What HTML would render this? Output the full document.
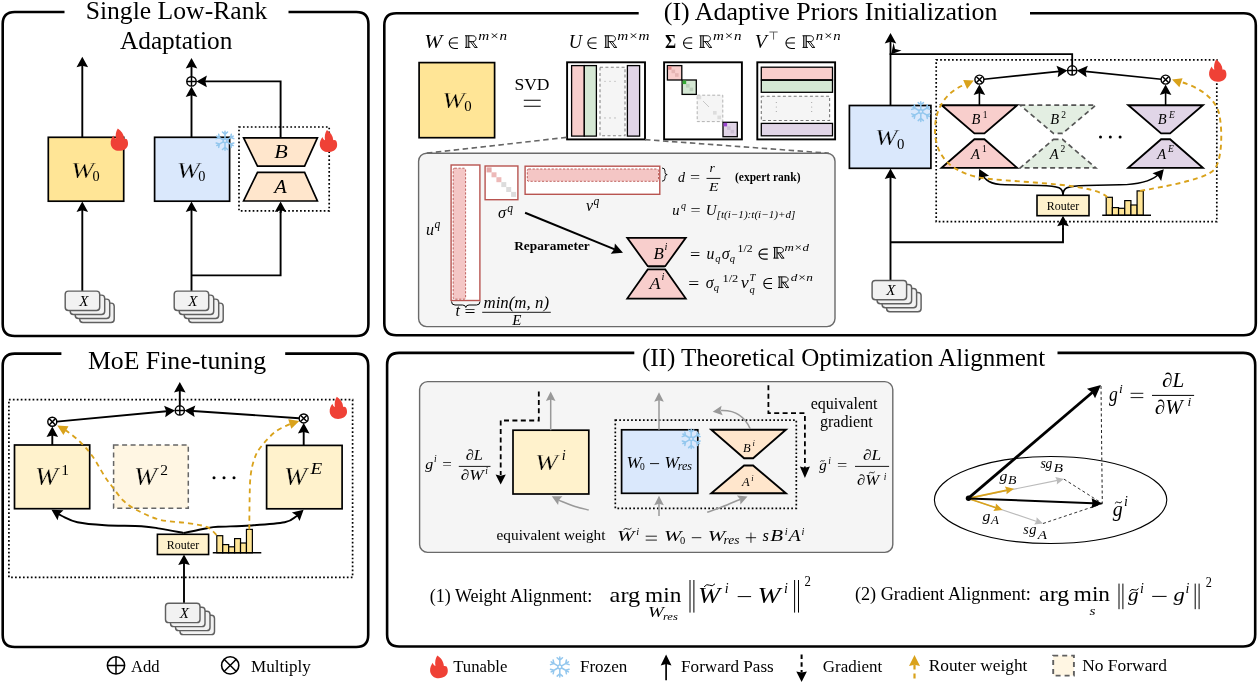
<!DOCTYPE html><html><head><meta charset="utf-8"><style>html,body{margin:0;padding:0;background:#fff;}svg{display:block;will-change:transform;}text{font-family:"Liberation Serif",serif;}</style></head><body>
<svg width="1259" height="683" viewBox="0 0 1259 683">
<rect width="1259" height="683" fill="#fff"/>
<path d="M64.5,12 L14.7,12 Q2.7,12 2.7,24 L2.7,324 Q2.7,336 14.7,336 L356.4,336 Q368.4,336 368.4,324 L368.4,24 Q368.4,12 356.4,12 L288.5,12" fill="none" stroke="#000" stroke-width="2.6"/>
<text x="176.5" y="18.7" font-size="25.6" text-anchor="middle" fill="#000" textLength="181.7" lengthAdjust="spacingAndGlyphs">Single Low-Rank</text>
<text x="176.2" y="48.6" font-size="25.4" text-anchor="middle" fill="#000" textLength="112.5" lengthAdjust="spacingAndGlyphs">Adaptation</text>
<rect x="48.3" y="137.3" width="75.4" height="63.9" fill="#FFE596" stroke="#000" stroke-width="1.7"/>
<text x="71" y="177.7" font-size="24" font-style="italic" text-anchor="start" fill="#000" textLength="22.9" lengthAdjust="spacingAndGlyphs" stroke="#FFE596" stroke-width="0.25">W</text>
<text x="92.6" y="181.4" font-size="14.3" text-anchor="start" fill="#000">0</text>
<path transform="translate(110.3,128.3) scale(1.0)" d="M7.5,0.3 C11,2.5 13.6,6 13.9,10.6 C14.8,10.2 15.8,10.4 16.6,11 C17.8,12.8 18,15.5 17.5,17.2 C16.5,20.6 13,22.5 8.8,22.5 C4.2,22.5 1,19.6 0.4,15.6 C0.1,12.2 1.4,9.4 3.1,7.3 C3.4,8.9 4.3,10 5.6,10.6 C5,6.6 5.6,3 7.5,0.3 Z" fill="#EF4136"/>
<path d="M82.3,137.3 L82.3,65.2" fill="none" stroke="#000" stroke-width="1.9" stroke-linecap="butt" stroke-linejoin="miter"/>
<path d="M82.30,56.80 L88.10,67.30 L82.30,65.70 L76.50,67.30 Z" fill="#000"/>
<path d="M82.3,291 L82.3,209.8" fill="none" stroke="#000" stroke-width="1.9" stroke-linecap="butt" stroke-linejoin="miter"/>
<path d="M82.30,201.40 L88.10,211.90 L82.30,210.30 L76.50,211.90 Z" fill="#000"/>
<rect x="79.7" y="303.1" width="34.5" height="19.3" rx="3.2" fill="#F2F2F2" stroke="#606060" stroke-width="1.45"/>
<rect x="75.2" y="299.1" width="34.5" height="19.3" rx="3.2" fill="#F2F2F2" stroke="#606060" stroke-width="1.45"/>
<rect x="70.2" y="295.1" width="34.5" height="19.3" rx="3.2" fill="#F2F2F2" stroke="#606060" stroke-width="1.45"/>
<rect x="65.2" y="291.1" width="34.5" height="19.3" rx="3.2" fill="#F2F2F2" stroke="#606060" stroke-width="1.45"/>
<text x="83.95" y="305.75" font-size="15" font-style="italic" text-anchor="middle" fill="#000">X</text>
<rect x="154.6" y="137.3" width="75.0" height="63.9" fill="#DAE8FC" stroke="#000" stroke-width="1.7"/>
<text x="176.7" y="177.8" font-size="24" font-style="italic" text-anchor="start" fill="#000" textLength="23" lengthAdjust="spacingAndGlyphs" stroke="#DAE8FC" stroke-width="0.25">W</text>
<text x="198.3" y="181.4" font-size="14.3" text-anchor="start" fill="#000">0</text>
<path d="M225.00,138.71 L225.00,131.30 M225.00,134.34 L227.54,132.05 M225.00,134.34 L222.46,132.05 M223.19,139.76 L216.77,136.05 M219.41,137.57 L218.69,134.22 M219.41,137.57 L216.15,138.63 M223.19,141.84 L216.77,145.55 M219.41,144.03 L216.15,142.97 M219.41,144.03 L218.69,147.38 M225.00,142.89 L225.00,150.30 M225.00,147.26 L222.46,149.55 M225.00,147.26 L227.54,149.55 M226.81,141.84 L233.23,145.55 M230.59,144.03 L231.31,147.38 M230.59,144.03 L233.85,142.97 M226.81,139.76 L233.23,136.05 M230.59,137.57 L233.85,138.63 M230.59,137.57 L231.31,134.22 M225.00,138.71 L223.19,139.76 L223.19,141.84 L225.00,142.89 L226.81,141.84 L226.81,139.76 Z" stroke="#93C7EE" stroke-width="1.5" stroke-linecap="round" stroke-linejoin="round" fill="none"/>
<path d="M191.5,137.3 L191.5,94.8" fill="none" stroke="#000" stroke-width="1.9" stroke-linecap="butt" stroke-linejoin="miter"/>
<path d="M191.50,86.40 L197.30,96.90 L191.50,95.30 L185.70,96.90 Z" fill="#000"/>
<circle cx="191.5" cy="81.4" r="4.7" fill="#fff" stroke="#000" stroke-width="1.45"/>
<path d="M186.8,81.4 L196.2,81.4 M191.5,76.7 L191.5,86.10000000000001" stroke="#000" stroke-width="1.45"/>
<path d="M191.5,76.6 L191.5,66.3" fill="none" stroke="#000" stroke-width="1.9" stroke-linecap="butt" stroke-linejoin="miter"/>
<path d="M191.50,57.90 L197.30,68.40 L191.50,66.80 L185.70,68.40 Z" fill="#000"/>
<path d="M280.6,137.9 L280.6,81.4 L204.8,81.4" fill="none" stroke="#000" stroke-width="1.9" stroke-linecap="butt" stroke-linejoin="miter"/>
<path d="M196.40,81.40 L206.90,75.60 L205.30,81.40 L206.90,87.20 Z" fill="#000"/>
<path d="M191.5,291 L191.5,209.8" fill="none" stroke="#000" stroke-width="1.9" stroke-linecap="butt" stroke-linejoin="miter"/>
<path d="M191.50,201.40 L197.30,211.90 L191.50,210.30 L185.70,211.90 Z" fill="#000"/>
<path d="M191.5,275.4 L280.6,275.4 L280.6,212" fill="none" stroke="#000" stroke-width="1.9" stroke-linecap="butt" stroke-linejoin="miter"/>
<path d="M280.6,213 L280.6,209.8" fill="none" stroke="#000" stroke-width="1.9" stroke-linecap="butt" stroke-linejoin="miter"/>
<path d="M280.60,201.40 L286.40,211.90 L280.60,210.30 L274.80,211.90 Z" fill="#000"/>
<rect x="188.7" y="303.1" width="34.5" height="19.3" rx="3.2" fill="#F2F2F2" stroke="#606060" stroke-width="1.45"/>
<rect x="184.2" y="299.1" width="34.5" height="19.3" rx="3.2" fill="#F2F2F2" stroke="#606060" stroke-width="1.45"/>
<rect x="179.2" y="295.1" width="34.5" height="19.3" rx="3.2" fill="#F2F2F2" stroke="#606060" stroke-width="1.45"/>
<rect x="174.2" y="291.1" width="34.5" height="19.3" rx="3.2" fill="#F2F2F2" stroke="#606060" stroke-width="1.45"/>
<text x="192.95" y="305.75" font-size="15" font-style="italic" text-anchor="middle" fill="#000">X</text>
<rect x="239" y="127" width="90.2" height="83.8" fill="none" stroke="#000" stroke-width="1.7" stroke-dasharray="1.7,2.25"/>
<polygon points="243.6,137.9 317.4,137.9 304.6,166.2 257.5,166.2" fill="#FFE6CC" stroke="#000" stroke-width="1.7" stroke-linejoin="miter"/>
<polygon points="257.5,172.3 304.6,172.3 317.4,201 243.6,201" fill="#FFE6CC" stroke="#000" stroke-width="1.7" stroke-linejoin="miter"/>
<text x="281" y="157.8" font-size="19.5" font-style="italic" text-anchor="middle" fill="#000" textLength="13.5" lengthAdjust="spacingAndGlyphs">B</text>
<text x="280.5" y="193.4" font-size="19.5" font-style="italic" text-anchor="middle" fill="#000" textLength="12.5" lengthAdjust="spacingAndGlyphs">A</text>
<path transform="translate(319.4,129.6) scale(1.0)" d="M7.5,0.3 C11,2.5 13.6,6 13.9,10.6 C14.8,10.2 15.8,10.4 16.6,11 C17.8,12.8 18,15.5 17.5,17.2 C16.5,20.6 13,22.5 8.8,22.5 C4.2,22.5 1,19.6 0.4,15.6 C0.1,12.2 1.4,9.4 3.1,7.3 C3.4,8.9 4.3,10 5.6,10.6 C5,6.6 5.6,3 7.5,0.3 Z" fill="#EF4136"/>
<path d="M61.4,353.6 L14.7,353.6 Q2.7,353.6 2.7,365.6 L2.7,635 Q2.7,647 14.7,647 L356.2,647 Q368.2,647 368.2,635 L368.2,365.6 Q368.2,353.6 356.2,353.6 L285.2,353.6" fill="none" stroke="#000" stroke-width="2.6"/>
<text x="177" y="368.6" font-size="25.6" text-anchor="middle" fill="#000" textLength="178.1" lengthAdjust="spacingAndGlyphs">MoE Fine-tuning</text>
<rect x="8.9" y="399.7" width="343.7" height="177.6" fill="none" stroke="#000" stroke-width="1.7" stroke-dasharray="1.7,2.25"/>
<path transform="translate(329.3,396.4) scale(1.0)" d="M7.5,0.3 C11,2.5 13.6,6 13.9,10.6 C14.8,10.2 15.8,10.4 16.6,11 C17.8,12.8 18,15.5 17.5,17.2 C16.5,20.6 13,22.5 8.8,22.5 C4.2,22.5 1,19.6 0.4,15.6 C0.1,12.2 1.4,9.4 3.1,7.3 C3.4,8.9 4.3,10 5.6,10.6 C5,6.6 5.6,3 7.5,0.3 Z" fill="#EF4136"/>
<path d="M179.8,405.6 L179.8,390.4" fill="none" stroke="#000" stroke-width="1.9" stroke-linecap="butt" stroke-linejoin="miter"/>
<path d="M179.80,382.00 L185.60,392.50 L179.80,390.90 L174.00,392.50 Z" fill="#000"/>
<path d="M56.7,421.6 L166.74,411.28" fill="none" stroke="#000" stroke-width="1.9" stroke-linecap="butt" stroke-linejoin="miter"/>
<path d="M175.10,410.50 L165.19,417.25 L166.24,411.33 L164.10,405.71 Z" fill="#000"/>
<path d="M299,418.2 L192.88,411.06" fill="none" stroke="#000" stroke-width="1.9" stroke-linecap="butt" stroke-linejoin="miter"/>
<path d="M184.50,410.50 L195.37,405.42 L193.38,411.10 L194.59,416.99 Z" fill="#000"/>
<circle cx="179.8" cy="410.4" r="4.6" fill="#fff" stroke="#000" stroke-width="1.45"/>
<path d="M175.20000000000002,410.4 L184.4,410.4 M179.8,405.79999999999995 L179.8,415.0" stroke="#000" stroke-width="1.45"/>
<rect x="14.5" y="445" width="75.2" height="63.7" fill="#FFF2CC" stroke="#000" stroke-width="1.7"/>
<rect x="113.6" y="445" width="74.7" height="63.3" fill="#FFF6E3" stroke="#666" stroke-width="1.5" stroke-dasharray="5,3.5"/>
<rect x="266.6" y="445.4" width="75.5" height="63.4" fill="#FFF2CC" stroke="#000" stroke-width="1.7"/>
<text x="35.1" y="485" font-size="25" font-style="italic" text-anchor="start" fill="#000" textLength="23" lengthAdjust="spacingAndGlyphs" stroke="#FFF2CC" stroke-width="0.25">W</text>
<text x="61.3" y="474.9" font-size="15.5" text-anchor="start" fill="#000">1</text>
<text x="134.1" y="485" font-size="25" font-style="italic" text-anchor="start" fill="#000" textLength="23" lengthAdjust="spacingAndGlyphs" stroke="#FFF6E3" stroke-width="0.25">W</text>
<text x="160.3" y="474.9" font-size="15.5" text-anchor="start" fill="#000">2</text>
<text x="284.1" y="484.6" font-size="25" font-style="italic" text-anchor="start" fill="#000" textLength="23" lengthAdjust="spacingAndGlyphs" stroke="#FFF2CC" stroke-width="0.25">W</text>
<text x="310.4" y="474" font-size="15.8" font-style="italic" text-anchor="start" fill="#000" textLength="11.7" lengthAdjust="spacingAndGlyphs">E</text>
<circle cx="214" cy="477.7" r="1.5" fill="#000"/>
<circle cx="224" cy="477.7" r="1.5" fill="#000"/>
<circle cx="234" cy="477.7" r="1.5" fill="#000"/>
<path d="M52.3,445 L52.3,435.0" fill="none" stroke="#000" stroke-width="1.9" stroke-linecap="butt" stroke-linejoin="miter"/>
<path d="M52.30,426.60 L58.10,437.10 L52.30,435.50 L46.50,437.10 Z" fill="#000"/>
<path d="M303.7,445.4 L303.7,431.4" fill="none" stroke="#000" stroke-width="1.9" stroke-linecap="butt" stroke-linejoin="miter"/>
<path d="M303.70,423.00 L309.50,433.50 L303.70,431.90 L297.90,433.50 Z" fill="#000"/>
<circle cx="52.3" cy="421.8" r="4.5" fill="#fff" stroke="#000" stroke-width="1.45"/>
<path d="M49.12,418.62 L55.48,424.98 M49.12,424.98 L55.48,418.62" stroke="#000" stroke-width="1.45"/>
<circle cx="303.7" cy="418.4" r="4.5" fill="#fff" stroke="#000" stroke-width="1.45"/>
<path d="M300.52,415.22 L306.88,421.58 M300.52,421.58 L306.88,415.22" stroke="#000" stroke-width="1.45"/>
<rect x="157.4" y="534.3" width="51.2" height="20.2" fill="#FFF2CC" stroke="#000" stroke-width="1.6"/>
<text x="183" y="548.6" font-size="12.5" text-anchor="middle" fill="#000" textLength="32.5" lengthAdjust="spacingAndGlyphs">Router</text>
<path d="M184,603.3 L184.0,563.0" fill="none" stroke="#000" stroke-width="1.9" stroke-linecap="butt" stroke-linejoin="miter"/>
<path d="M184.00,554.60 L189.80,565.10 L184.00,563.50 L178.20,565.10 Z" fill="#000"/>
<rect x="180.0" y="615.3" width="34.5" height="19.3" rx="3.2" fill="#F2F2F2" stroke="#606060" stroke-width="1.45"/>
<rect x="175.5" y="611.3" width="34.5" height="19.3" rx="3.2" fill="#F2F2F2" stroke="#606060" stroke-width="1.45"/>
<rect x="170.5" y="607.3" width="34.5" height="19.3" rx="3.2" fill="#F2F2F2" stroke="#606060" stroke-width="1.45"/>
<rect x="165.5" y="603.3" width="34.5" height="19.3" rx="3.2" fill="#F2F2F2" stroke="#606060" stroke-width="1.45"/>
<text x="184.25" y="617.9499999999999" font-size="15" font-style="italic" text-anchor="middle" fill="#000">X</text>
<rect x="216.80" y="535.7" width="5.93" height="17.10" fill="#FFE596" stroke="#000" stroke-width="1.2"/>
<rect x="222.73" y="544.6" width="5.93" height="8.20" fill="#FFE596" stroke="#000" stroke-width="1.2"/>
<rect x="228.66" y="546.8" width="5.93" height="6.00" fill="#FFE596" stroke="#000" stroke-width="1.2"/>
<rect x="234.59" y="538.6" width="5.93" height="14.20" fill="#FFE596" stroke="#000" stroke-width="1.2"/>
<rect x="240.52" y="543.0" width="5.93" height="9.80" fill="#FFE596" stroke="#000" stroke-width="1.2"/>
<rect x="246.45" y="529.4" width="5.93" height="23.40" fill="#FFE596" stroke="#000" stroke-width="1.2"/>
<path d="M212.8,552.8 L261.3,552.8" fill="none" stroke="#000" stroke-width="1.4" stroke-linecap="butt" stroke-linejoin="miter"/>
<path d="M183.5,533 C179.58,532.27 167.00,529.73 160,528.6 C153.00,527.47 150.67,526.77 141.5,526.2 C132.33,525.63 115.68,525.87 105,525.2 C94.32,524.53 84.57,523.73 77.4,522.2 C70.23,520.67 65.08,517.34 62,516 C58.92,514.66 59.42,514.47 58.91,514.17" fill="none" stroke="#000" stroke-width="1.9"/>
<path d="M51.50,509.80 L63.49,510.14 L59.16,514.33 L57.59,520.13 Z" fill="#000"/>
<path d="M183.5,533 C187.42,532.20 201.25,529.23 207,528.2 C212.75,527.17 210.83,527.25 218,526.8 C225.17,526.35 238.88,526.25 250,525.5 C261.12,524.75 277.03,523.80 284.7,522.3 C292.37,520.80 293.93,517.63 296,516.5 C298.07,515.37 296.96,515.66 297.15,515.49" fill="none" stroke="#000" stroke-width="1.9"/>
<path d="M303.60,509.80 L299.56,521.09 L296.92,515.69 L291.89,512.39 Z" fill="#000"/>
<path d="M216.5,535 C214.97,533.70 211.88,529.15 207.3,527.2 C202.72,525.25 196.93,524.55 189,523.3 C181.07,522.05 168.53,521.98 159.7,519.7 C150.87,517.42 142.08,512.80 136,509.6 C129.92,506.40 127.02,504.15 123.2,500.5 C119.38,496.85 116.15,491.67 113.1,487.7 C110.05,483.73 108.40,482.03 104.9,476.7 C101.40,471.37 96.22,461.48 92.1,455.7 C87.98,449.92 84.32,446.03 80.2,442 C76.08,437.97 69.82,433.42 67.4,431.5 C64.98,429.58 65.97,430.66 65.68,430.49" fill="none" stroke="#D9A21B" stroke-width="1.8" stroke-dasharray="5,4"/>
<path d="M57.30,425.60 L68.46,426.33 L65.93,430.64 L63.41,434.96 Z" fill="#D9A21B"/>
<path d="M249.3,529.5 C249.35,524.58 249.40,508.80 249.6,500 C249.80,491.20 249.77,483.37 250.5,476.7 C251.23,470.03 252.38,464.82 254,460 C255.62,455.18 256.70,452.47 260.2,447.8 C263.70,443.13 270.03,435.97 275,432 C279.97,428.03 287.49,425.34 290,424 C292.51,422.66 290.06,423.98 290.07,423.98" fill="none" stroke="#D9A21B" stroke-width="1.8" stroke-dasharray="5,4"/>
<path d="M299.30,421.00 L291.32,428.83 L289.78,424.07 L288.25,419.31 Z" fill="#D9A21B"/>
<path d="M638.7,13.3 L396.3,13.3 Q384.3,13.3 384.3,25.3 L384.3,323.2 Q384.3,335.2 396.3,335.2 L1243.8,335.2 Q1255.8,335.2 1255.8,323.2 L1255.8,25.3 Q1255.8,13.3 1243.8,13.3 L1030,13.3" fill="none" stroke="#000" stroke-width="2.6"/>
<text x="830.6" y="19.7" font-size="25.8" text-anchor="middle" fill="#000" textLength="333.6" lengthAdjust="spacingAndGlyphs">(I) Adaptive Priors Initialization</text>
<text x="424.2" y="47.9" font-size="19.5" font-style="italic" text-anchor="start" fill="#000" textLength="18" lengthAdjust="spacingAndGlyphs">W</text>
<path d="M457.90,37.70 L454.55,37.70 A5.35,5.35 0 0 0 454.55,48.40 L457.90,48.40 M449.50,43.05 L457.90,43.05" fill="none" stroke="#000" stroke-width="1.05"/>
<path d="M465.00,35.75 L472.80,35.75 C477.00,35.75 477.00,41.60 472.80,41.60 L468.80,41.60 M466.20,35.75 L466.20,47.45 M468.80,35.75 L468.80,47.45 M465.00,47.45 L470.40,47.45 M470.40,41.60 L474.80,47.45 M472.60,41.60 L477.00,47.45 M474.40,47.45 L477.40,47.45" fill="none" stroke="#000" stroke-width="0.95"/>
<rect x="466.20" y="35.75" width="2.6" height="11.70" fill="#000" opacity="0.25"/>
<text x="478.3" y="39.9" font-size="13.3" font-style="italic" text-anchor="start" fill="#000" textLength="28.8" lengthAdjust="spacingAndGlyphs">m×n</text>
<text x="568.7" y="47.9" font-size="19.5" font-style="italic" text-anchor="start" fill="#000" textLength="13.2" lengthAdjust="spacingAndGlyphs">U</text>
<path d="M596.50,37.70 L593.15,37.70 A5.35,5.35 0 0 0 593.15,48.40 L596.50,48.40 M588.10,43.05 L596.50,43.05" fill="none" stroke="#000" stroke-width="1.05"/>
<path d="M604.50,35.75 L612.30,35.75 C616.50,35.75 616.50,41.60 612.30,41.60 L608.30,41.60 M605.70,35.75 L605.70,47.45 M608.30,35.75 L608.30,47.45 M604.50,47.45 L609.90,47.45 M609.90,41.60 L614.30,47.45 M612.10,41.60 L616.50,47.45 M613.90,47.45 L616.90,47.45" fill="none" stroke="#000" stroke-width="0.95"/>
<rect x="605.70" y="35.75" width="2.6" height="11.70" fill="#000" opacity="0.25"/>
<text x="617.3" y="39.9" font-size="13.3" font-style="italic" text-anchor="start" fill="#000" textLength="32.2" lengthAdjust="spacingAndGlyphs">m×m</text>
<text x="665.1" y="47.9" font-size="19" font-weight="bold" text-anchor="start" fill="#000" textLength="11.1" lengthAdjust="spacingAndGlyphs">Σ</text>
<path d="M692.20,37.70 L688.85,37.70 A5.35,5.35 0 0 0 688.85,48.40 L692.20,48.40 M683.80,43.05 L692.20,43.05" fill="none" stroke="#000" stroke-width="1.05"/>
<path d="M699.50,35.75 L707.30,35.75 C711.50,35.75 711.50,41.60 707.30,41.60 L703.30,41.60 M700.70,35.75 L700.70,47.45 M703.30,35.75 L703.30,47.45 M699.50,47.45 L704.90,47.45 M704.90,41.60 L709.30,47.45 M707.10,41.60 L711.50,47.45 M708.90,47.45 L711.90,47.45" fill="none" stroke="#000" stroke-width="0.95"/>
<rect x="700.70" y="35.75" width="2.6" height="11.70" fill="#000" opacity="0.25"/>
<text x="712.9" y="39.9" font-size="13.3" font-style="italic" text-anchor="start" fill="#000" textLength="28.6" lengthAdjust="spacingAndGlyphs">m×n</text>
<text x="754.8" y="47.9" font-size="19.5" font-style="italic" text-anchor="start" fill="#000" textLength="12.1" lengthAdjust="spacingAndGlyphs">V</text>
<path d="M769.4,32 L777.6999999999999,32 M773.55,32 L773.55,39.6" stroke="#555" stroke-width="0.9" fill="none"/>
<path d="M794.90,37.70 L791.25,37.70 A5.35,5.35 0 0 0 791.25,48.40 L794.90,48.40 M786.20,43.05 L794.90,43.05" fill="none" stroke="#000" stroke-width="1.05"/>
<path d="M802.50,35.75 L810.30,35.75 C814.50,35.75 814.50,41.60 810.30,41.60 L806.30,41.60 M803.70,35.75 L803.70,47.45 M806.30,35.75 L806.30,47.45 M802.50,47.45 L807.90,47.45 M807.90,41.60 L812.30,47.45 M810.10,41.60 L814.50,47.45 M811.90,47.45 L814.90,47.45" fill="none" stroke="#000" stroke-width="0.95"/>
<rect x="803.70" y="35.75" width="2.6" height="11.70" fill="#000" opacity="0.25"/>
<text x="815.8" y="39.9" font-size="13.3" font-style="italic" text-anchor="start" fill="#000" textLength="24.8" lengthAdjust="spacingAndGlyphs">n×n</text>
<rect x="419.1" y="62.6" width="75.5" height="75.1" fill="#FFE596" stroke="#000" stroke-width="1.7"/>
<text x="442.3" y="107.8" font-size="24" font-style="italic" text-anchor="start" fill="#000" textLength="22.4" lengthAdjust="spacingAndGlyphs" stroke="#FFE596" stroke-width="0.25">W</text>
<text x="464.3" y="111.2" font-size="14.8" text-anchor="start" fill="#000">0</text>
<text x="532" y="89.6" font-size="17.5" text-anchor="middle" fill="#000" textLength="35.1" lengthAdjust="spacingAndGlyphs">SVD</text>
<path d="M523.8,100.3 L540.7,100.3 M523.8,106.3 L540.7,106.3" stroke="#000" stroke-width="1.1"/>
<rect x="567.1" y="62.3" width="77.9" height="77.1" fill="#fff" stroke="#000" stroke-width="1.9"/>
<rect x="571.6" y="65.6" width="12.7" height="70.5" fill="#F8CECC" stroke="#000" stroke-width="1.3"/>
<rect x="584.3" y="65.6" width="12.1" height="70.5" fill="#D5E8D4" stroke="#000" stroke-width="1.3"/>
<rect x="600" y="67.2" width="25" height="68.5" fill="#F5F5F5" stroke="#888" stroke-width="1.1" stroke-dasharray="3,2.4"/>
<circle cx="605" cy="81.2" r="0.55" fill="#999"/>
<circle cx="610" cy="81.2" r="0.55" fill="#999"/>
<circle cx="615" cy="81.2" r="0.55" fill="#999"/>
<circle cx="605" cy="117.9" r="0.55" fill="#999"/>
<circle cx="610" cy="117.9" r="0.55" fill="#999"/>
<circle cx="615" cy="117.9" r="0.55" fill="#999"/>
<rect x="627.4" y="65.6" width="12.2" height="70.5" fill="#E1D5E7" stroke="#000" stroke-width="1.3"/>
<rect x="664.1" y="62.3" width="77.8" height="77.1" fill="#fff" stroke="#000" stroke-width="1.9"/>
<rect x="667.4" y="65.6" width="14.4" height="14.4" fill="#F8CECC" stroke="#000" stroke-width="1.3"/>
<rect x="682.1" y="80" width="14.2" height="14.4" fill="#D5E8D4" stroke="#000" stroke-width="1.3"/>
<rect x="697.2" y="95.2" width="25.6" height="26.4" fill="#F5F5F5" stroke="#aaa" stroke-width="0.9" stroke-dasharray="3,2"/>
<rect x="723" y="122.3" width="14.3" height="14.4" fill="#E1D5E7" stroke="#000" stroke-width="1.3"/>
<rect x="667.9" y="66.1" width="3.6" height="3.6" fill="#D88"/>
<rect x="671.5" y="69.6" width="3.6" height="3.6" fill="#E4B4B2"/>
<rect x="675" y="73.2" width="3.6" height="3.6" fill="#E4B4B2"/>
<rect x="682.6" y="80.5" width="3.6" height="3.6" fill="#3A3"/>
<rect x="686" y="84" width="3.6" height="3.6" fill="#BCCFBB"/>
<rect x="689.6" y="87.6" width="3.6" height="3.6" fill="#BCCFBB"/>
<rect x="697.6" y="95.6" width="3.6" height="3.6" fill="#DDD"/>
<rect x="713" y="111" width="3.6" height="3.6" fill="#DDD"/>
<rect x="717.4" y="115.6" width="3.6" height="3.6" fill="#DDD"/>
<rect x="723.5" y="122.8" width="3.6" height="3.6" fill="#94C"/>
<rect x="727" y="126.3" width="3.6" height="3.6" fill="#CCC0D4"/>
<rect x="730.6" y="129.8" width="3.6" height="3.6" fill="#CCC0D4"/>
<path d="M703,101 L709,107" stroke="#bbb" stroke-width="0.8"/>
<rect x="757.3" y="62.3" width="77.8" height="77.1" fill="#fff" stroke="#000" stroke-width="1.9"/>
<rect x="761.3" y="67.2" width="71.2" height="12.6" fill="#F8CECC" stroke="#000" stroke-width="1.3"/>
<rect x="761.3" y="80.3" width="71.2" height="12.0" fill="#D5E8D4" stroke="#000" stroke-width="1.3"/>
<rect x="761.3" y="96.2" width="68.3" height="24.3" fill="#F5F5F5" stroke="#777" stroke-width="1.1" stroke-dasharray="3,2.4"/>
<circle cx="776.3" cy="102.5" r="0.55" fill="#999"/>
<circle cx="776.3" cy="107" r="0.55" fill="#999"/>
<circle cx="776.3" cy="111.5" r="0.55" fill="#999"/>
<circle cx="811.7" cy="102.5" r="0.55" fill="#999"/>
<circle cx="811.7" cy="107" r="0.55" fill="#999"/>
<circle cx="811.7" cy="111.5" r="0.55" fill="#999"/>
<rect x="761.3" y="123.4" width="71.2" height="12.4" fill="#E1D5E7" stroke="#000" stroke-width="1.3"/>
<path d="M566.5,137.4 L426.5,153.2" fill="none" stroke="#666" stroke-width="1.6" stroke-linecap="butt" stroke-linejoin="miter" stroke-dasharray="5.5,3.5"/>
<path d="M645,139.6 L829,153.2" fill="none" stroke="#666" stroke-width="1.6" stroke-linecap="butt" stroke-linejoin="miter" stroke-dasharray="5.5,3.5"/>
<rect x="418.6" y="153.2" width="416.4" height="173.4" fill="#F5F5F5" stroke="#6A6A6A" stroke-width="1.4" rx="8"/>
<rect x="451.1" y="165" width="28.8" height="135.5" fill="#fff" stroke="#B85450" stroke-width="1.4"/>
<rect x="453.2" y="168.2" width="12.4" height="131.0" fill="#F4C6C5" stroke="#B85450" stroke-width="0.9" stroke-dasharray="2.2,1.6" rx="1.5"/>
<path d="M451.5,301.5 Q451.5,305 455,305 L462.5,305 Q465.5,305 465.8,307.5 Q466.1,305 469,305 L476.5,305 Q480,305 480,301.5" fill="none" stroke="#000" stroke-width="1"/>
<rect x="485.1" y="166" width="32.8" height="33.7" fill="#fff" stroke="#B85450" stroke-width="1.4"/>
<rect x="486.60" y="167.40" width="5" height="5" fill="#E4A9A8"/>
<rect x="491.50" y="172.30" width="5" height="5" fill="#EDB9B8"/>
<rect x="496.40" y="177.20" width="5" height="5" fill="#EDB9B8"/>
<rect x="501.30" y="182.10" width="5" height="5" fill="#DCDCDC"/>
<rect x="506.20" y="187.00" width="5" height="5" fill="#DCDCDC"/>
<rect x="511.10" y="191.90" width="5" height="5" fill="#DCDCDC"/>
<rect x="525.1" y="166.2" width="134.7" height="28.1" fill="#fff" stroke="#B85450" stroke-width="1.4"/>
<rect x="527.3" y="169" width="131.2" height="12.3" fill="#F4C6C5" stroke="#B85450" stroke-width="0.9" stroke-dasharray="2.2,1.6" rx="1.5"/>
<path d="M662,168 Q665,168 665,171 L665,172.5 Q665,174.6 667.2,174.6 Q665,174.6 665,176.8 L665,178.2 Q665,181.2 662,181.2" fill="none" stroke="#000" stroke-width="0.9"/>
<text x="498" y="218" font-size="16" font-style="italic" text-anchor="start" fill="#000" textLength="8" lengthAdjust="spacingAndGlyphs">σ</text>
<text x="507.2" y="212" font-size="11.5" font-style="italic" text-anchor="start" fill="#000">q</text>
<text x="586" y="211.4" font-size="16" font-style="italic" text-anchor="start" fill="#000">v</text>
<text x="593.4" y="204.5" font-size="11.5" font-style="italic" text-anchor="start" fill="#000">q</text>
<text x="426" y="235" font-size="16" font-style="italic" text-anchor="start" fill="#000">u</text>
<text x="434.5" y="228" font-size="11.5" font-style="italic" text-anchor="start" fill="#000">q</text>
<text x="455.6" y="315.8" font-size="16" font-style="italic" text-anchor="start" fill="#000">t</text>
<text x="464.5" y="317" font-size="16" text-anchor="start" fill="#000" textLength="11" lengthAdjust="spacingAndGlyphs">=</text>
<text x="483.5" y="307.5" font-size="16" font-style="italic" text-anchor="start" fill="#000" textLength="65.5" lengthAdjust="spacingAndGlyphs">min(m, n)</text>
<path d="M482.2,312.3 L550.8,312.3" stroke="#000" stroke-width="0.9"/>
<text x="512.3" y="325.3" font-size="15" font-style="italic" text-anchor="start" fill="#000">E</text>
<path d="M525.1,212.8 L614.76,249.34" fill="none" stroke="#000" stroke-width="2.0" stroke-linecap="butt" stroke-linejoin="miter"/>
<path d="M623.00,252.70 L610.74,253.64 L614.30,249.15 L614.89,243.46 Z" fill="#000"/>
<text x="514.2" y="249.5" font-size="13.4" font-weight="bold" text-anchor="start" fill="#000" textLength="75.6" lengthAdjust="spacingAndGlyphs">Reparameter</text>
<text x="677.9" y="181.6" font-size="14" font-style="italic" text-anchor="start" fill="#000">d</text>
<text x="690" y="181.6" font-size="14" text-anchor="start" fill="#000" textLength="10.1" lengthAdjust="spacingAndGlyphs">=</text>
<text x="709.6" y="172.1" font-size="13.5" font-style="italic" text-anchor="start" fill="#000">r</text>
<path d="M706.5,178.4 L720.4,178.4" stroke="#000" stroke-width="0.9"/>
<text x="709" y="191.1" font-size="13" font-style="italic" text-anchor="start" fill="#000" textLength="9.5" lengthAdjust="spacingAndGlyphs">E</text>
<text x="735" y="181" font-size="11.6" font-weight="bold" text-anchor="start" fill="#000" textLength="65.5" lengthAdjust="spacingAndGlyphs">(expert rank)</text>
<text x="672.2" y="214.6" font-size="14.5" font-style="italic" text-anchor="start" fill="#000">u</text>
<text x="681" y="209.3" font-size="10" font-style="italic" text-anchor="start" fill="#000">q</text>
<text x="690.6" y="214.6" font-size="14.5" text-anchor="start" fill="#000" textLength="10.1" lengthAdjust="spacingAndGlyphs">=</text>
<text x="705.8" y="214.6" font-size="14.5" font-style="italic" text-anchor="start" fill="#000" textLength="10.8" lengthAdjust="spacingAndGlyphs">U</text>
<text x="716.6" y="218.4" font-size="10.5" font-style="italic" text-anchor="start" fill="#000" textLength="78.8" lengthAdjust="spacingAndGlyphs">[t(i−1):t(i−1)+d]</text>
<polygon points="627.25,237.9 685.75,237.9 665.25,266.2 647.75,266.2" fill="#F8CECC" stroke="#000" stroke-width="1.8" stroke-linejoin="miter"/>
<polygon points="647.75,269.4 665.25,269.4 685.75,298.6 627.25,298.6" fill="#F8CECC" stroke="#000" stroke-width="1.8" stroke-linejoin="miter"/>
<rect x="648.2" y="267.1" width="16.6" height="1.4" fill="#8A8A8A"/>
<text x="653.4" y="258.6" font-size="16" font-style="italic" text-anchor="start" fill="#000" textLength="10.3" lengthAdjust="spacingAndGlyphs">B</text>
<text x="664.6" y="250" font-size="10.5" font-style="italic" text-anchor="start" fill="#000">i</text>
<text x="649.4" y="288.8" font-size="16" font-style="italic" text-anchor="start" fill="#000" textLength="11" lengthAdjust="spacingAndGlyphs">A</text>
<text x="661.5" y="280" font-size="10.5" font-style="italic" text-anchor="start" fill="#000">i</text>
<text x="689.9" y="259.8" font-size="16" text-anchor="start" fill="#000" textLength="10.3" lengthAdjust="spacingAndGlyphs">=</text>
<text x="706.6" y="258.6" font-size="16" font-style="italic" text-anchor="start" fill="#000" textLength="7.9" lengthAdjust="spacingAndGlyphs">u</text>
<text x="715.2" y="262" font-size="10.5" font-style="italic" text-anchor="start" fill="#000">q</text>
<text x="721.7" y="258.6" font-size="16" font-style="italic" text-anchor="start" fill="#000" textLength="7.9" lengthAdjust="spacingAndGlyphs">σ</text>
<text x="729.8" y="262" font-size="10.5" font-style="italic" text-anchor="start" fill="#000">q</text>
<text x="737.6" y="252.2" font-size="11" text-anchor="start" fill="#000" textLength="15" lengthAdjust="spacingAndGlyphs">1/2</text>
<path d="M767.70,249.10 L764.00,249.10 A5.00,5.00 0 0 0 764.00,259.10 L767.70,259.10 M759.30,254.10 L767.70,254.10" fill="none" stroke="#000" stroke-width="1.05"/>
<path d="M773.30,247.45 L780.27,247.45 C784.48,247.45 784.48,252.80 780.27,252.80 L777.10,252.80 M774.50,247.45 L774.50,258.15 M777.10,247.45 L777.10,258.15 M773.30,258.15 L778.70,258.15 M777.88,252.80 L781.60,258.15 M780.07,252.80 L783.80,258.15 M781.20,258.15 L784.20,258.15" fill="none" stroke="#000" stroke-width="0.95"/>
<rect x="774.50" y="247.45" width="2.6" height="10.70" fill="#000" opacity="0.25"/>
<text x="784.4" y="251.4" font-size="11" font-style="italic" text-anchor="start" fill="#000" textLength="24.6" lengthAdjust="spacingAndGlyphs">m×d</text>
<text x="688.3" y="289.2" font-size="16" text-anchor="start" fill="#000" textLength="11" lengthAdjust="spacingAndGlyphs">=</text>
<text x="705.8" y="288" font-size="16" font-style="italic" text-anchor="start" fill="#000" textLength="7.9" lengthAdjust="spacingAndGlyphs">σ</text>
<text x="713.8" y="291.4" font-size="10.5" font-style="italic" text-anchor="start" fill="#000">q</text>
<text x="722.5" y="281.6" font-size="11" text-anchor="start" fill="#000" textLength="15.8" lengthAdjust="spacingAndGlyphs">1/2</text>
<text x="740.7" y="288" font-size="16" font-style="italic" text-anchor="start" fill="#000" textLength="8" lengthAdjust="spacingAndGlyphs">v</text>
<text x="749.5" y="281" font-size="10.5" font-style="italic" text-anchor="start" fill="#000">T</text>
<text x="749.5" y="292.5" font-size="10.5" font-style="italic" text-anchor="start" fill="#000">q</text>
<path d="M772.00,278.50 L768.80,278.50 A5.00,5.00 0 0 0 768.80,288.50 L772.00,288.50 M764.10,283.50 L772.00,283.50" fill="none" stroke="#000" stroke-width="1.05"/>
<path d="M778.00,276.85 L784.98,276.85 C789.18,276.85 789.18,282.20 784.98,282.20 L781.80,282.20 M779.20,276.85 L779.20,287.55 M781.80,276.85 L781.80,287.55 M778.00,287.55 L783.40,287.55 M782.58,282.20 L786.30,287.55 M784.77,282.20 L788.50,287.55 M785.90,287.55 L788.90,287.55" fill="none" stroke="#000" stroke-width="0.95"/>
<rect x="779.20" y="276.85" width="2.6" height="10.70" fill="#000" opacity="0.25"/>
<text x="790.8" y="280.8" font-size="11" font-style="italic" text-anchor="start" fill="#000" textLength="22.2" lengthAdjust="spacingAndGlyphs">d×n</text>
<rect x="849.4" y="105.5" width="81.5" height="62.8" fill="#DAE8FC" stroke="#000" stroke-width="1.7"/>
<text x="875" y="145.3" font-size="24" font-style="italic" text-anchor="start" fill="#000" textLength="22.4" lengthAdjust="spacingAndGlyphs" stroke="#DAE8FC" stroke-width="0.25">W</text>
<text x="897" y="148.8" font-size="14.8" text-anchor="start" fill="#000">0</text>
<path d="M920.80,109.44 L920.80,101.80 M920.80,104.94 L923.42,102.58 M920.80,104.94 L918.18,102.58 M918.93,110.52 L912.31,106.70 M915.03,108.27 L914.30,104.82 M915.03,108.27 L911.67,109.36 M918.93,112.68 L912.31,116.50 M915.03,114.93 L911.67,113.84 M915.03,114.93 L914.30,118.38 M920.80,113.76 L920.80,121.40 M920.80,118.26 L918.18,120.62 M920.80,118.26 L923.42,120.62 M922.67,112.68 L929.29,116.50 M926.57,114.93 L927.30,118.38 M926.57,114.93 L929.93,113.84 M922.67,110.52 L929.29,106.70 M926.57,108.27 L929.93,109.36 M926.57,108.27 L927.30,104.82 M920.80,109.44 L918.93,110.52 L918.93,112.68 L920.80,113.76 L922.67,112.68 L922.67,110.52 Z" stroke="#93C7EE" stroke-width="1.5" stroke-linecap="round" stroke-linejoin="round" fill="none"/>
<path d="M890.5,105.5 L890.5,41.3" fill="none" stroke="#000" stroke-width="1.8" stroke-linecap="butt" stroke-linejoin="miter"/>
<path d="M890.50,32.90 L896.30,43.40 L890.50,41.80 L884.70,43.40 Z" fill="#000"/>
<path d="M889.6,54.2 L1072.2,54.2 L1072.2,66" fill="none" stroke="#000" stroke-width="1.8" stroke-linecap="butt" stroke-linejoin="miter"/>
<path d="M891.2,54.2 L893.6,42.8 L895,49 L901.5,50.6 Z" fill="#000"/>
<rect x="936.2" y="59.8" width="280.6" height="161.9" fill="none" stroke="#000" stroke-width="1.7" stroke-dasharray="1.7,2.25"/>
<path transform="translate(1208.7,59.2) scale(1.0)" d="M7.5,0.3 C11,2.5 13.6,6 13.9,10.6 C14.8,10.2 15.8,10.4 16.6,11 C17.8,12.8 18,15.5 17.5,17.2 C16.5,20.6 13,22.5 8.8,22.5 C4.2,22.5 1,19.6 0.4,15.6 C0.1,12.2 1.4,9.4 3.1,7.3 C3.4,8.9 4.3,10 5.6,10.6 C5,6.6 5.6,3 7.5,0.3 Z" fill="#EF4136"/>
<path d="M983.9,79.2 L1059.15,71.37" fill="none" stroke="#000" stroke-width="1.6" stroke-linecap="butt" stroke-linejoin="miter"/>
<path d="M1067.50,70.50 L1057.66,77.36 L1058.65,71.42 L1056.46,65.82 Z" fill="#000"/>
<path d="M1161.2,79.2 L1085.16,71.36" fill="none" stroke="#000" stroke-width="1.6" stroke-linecap="butt" stroke-linejoin="miter"/>
<path d="M1076.80,70.50 L1087.84,65.81 L1085.65,71.41 L1086.65,77.35 Z" fill="#000"/>
<circle cx="1072.2" cy="70.4" r="4.6" fill="#fff" stroke="#000" stroke-width="1.45"/>
<path d="M1067.6000000000001,70.4 L1076.8,70.4 M1072.2,65.80000000000001 L1072.2,75.0" stroke="#000" stroke-width="1.45"/>
<circle cx="979.4" cy="79.6" r="4.5" fill="#fff" stroke="#000" stroke-width="1.45"/>
<path d="M976.22,76.42 L982.58,82.78 M976.22,82.78 L982.58,76.42" stroke="#000" stroke-width="1.45"/>
<circle cx="1165.6" cy="79.6" r="4.5" fill="#fff" stroke="#000" stroke-width="1.45"/>
<path d="M1162.42,76.42 L1168.78,82.78 M1162.42,82.78 L1168.78,76.42" stroke="#000" stroke-width="1.45"/>
<path d="M979.4,105 L979.4,92.8" fill="none" stroke="#000" stroke-width="1.6" stroke-linecap="butt" stroke-linejoin="miter"/>
<path d="M979.40,84.40 L985.20,94.90 L979.40,93.30 L973.60,94.90 Z" fill="#000"/>
<path d="M1165.6,105 L1165.6,92.8" fill="none" stroke="#000" stroke-width="1.6" stroke-linecap="butt" stroke-linejoin="miter"/>
<path d="M1165.60,84.40 L1171.40,94.90 L1165.60,93.30 L1159.80,94.90 Z" fill="#000"/>
<polygon points="941.65,105.2 1017.15,105.2 984.4,133.4 974.4,133.4" fill="#F8CECC" stroke="#000" stroke-width="1.9" stroke-linejoin="miter"/>
<polygon points="974.4,139.3 984.4,139.3 1017.15,167.9 941.65,167.9" fill="#F8CECC" stroke="#000" stroke-width="1.9" stroke-linejoin="miter"/>
<polygon points="1020.25,105.2 1095.75,105.2 1062.5,133.4 1053.5,133.4" fill="#E3EEE2" stroke="#555" stroke-width="1.7" stroke-linejoin="miter" stroke-dasharray="5,3.5"/>
<polygon points="1053.5,139.3 1062.5,139.3 1095.75,167.9 1020.25,167.9" fill="#E3EEE2" stroke="#555" stroke-width="1.7" stroke-linejoin="miter" stroke-dasharray="5,3.5"/>
<polygon points="1128.35,105.2 1202.85,105.2 1170.1,133.4 1161.1,133.4" fill="#E1D5E7" stroke="#000" stroke-width="1.9" stroke-linejoin="miter"/>
<polygon points="1161.1,139.3 1170.1,139.3 1202.85,167.9 1128.35,167.9" fill="#E1D5E7" stroke="#000" stroke-width="1.9" stroke-linejoin="miter"/>
<text x="971.6" y="123.8" font-size="14.5" font-style="italic" text-anchor="start" fill="#000">B</text>
<text x="982.6999999999999" y="117.5" font-size="9.5" text-anchor="start" fill="#000">1</text>
<text x="1050.2" y="123.8" font-size="14.5" font-style="italic" text-anchor="start" fill="#000">B</text>
<text x="1061.3" y="117.5" font-size="9.5" text-anchor="start" fill="#000">2</text>
<text x="1157.8" y="123.8" font-size="14.5" font-style="italic" text-anchor="start" fill="#000">B</text>
<text x="1168.8999999999999" y="117.5" font-size="9.5" font-style="italic" text-anchor="start" fill="#000">E</text>
<text x="971.1" y="158.8" font-size="14.5" font-style="italic" text-anchor="start" fill="#000">A</text>
<text x="981.9" y="152.3" font-size="9.5" text-anchor="start" fill="#000">1</text>
<text x="1049.7" y="158.8" font-size="14.5" font-style="italic" text-anchor="start" fill="#000">A</text>
<text x="1060.5" y="152.3" font-size="9.5" text-anchor="start" fill="#000">2</text>
<text x="1157.3" y="158.8" font-size="14.5" font-style="italic" text-anchor="start" fill="#000">A</text>
<text x="1168.1" y="152.3" font-size="9.5" font-style="italic" text-anchor="start" fill="#000">E</text>
<circle cx="1100.5" cy="137" r="1.5" fill="#000"/>
<circle cx="1110.3" cy="137" r="1.5" fill="#000"/>
<circle cx="1120.1" cy="137" r="1.5" fill="#000"/>
<rect x="1037" y="195.3" width="52" height="20.4" fill="#FFF2CC" stroke="#000" stroke-width="1.6"/>
<text x="1063" y="210" font-size="12.5" text-anchor="middle" fill="#000" textLength="32.5" lengthAdjust="spacingAndGlyphs">Router</text>
<rect x="1106.20" y="197.3" width="6.18" height="18.00" fill="#FFE596" stroke="#000" stroke-width="1.2"/>
<rect x="1112.38" y="207.6" width="6.18" height="7.70" fill="#FFE596" stroke="#000" stroke-width="1.2"/>
<rect x="1118.56" y="208.3" width="6.18" height="7.00" fill="#FFE596" stroke="#000" stroke-width="1.2"/>
<rect x="1124.74" y="200.6" width="6.18" height="14.70" fill="#FFE596" stroke="#000" stroke-width="1.2"/>
<rect x="1130.92" y="205.0" width="6.18" height="10.30" fill="#FFE596" stroke="#000" stroke-width="1.2"/>
<rect x="1137.10" y="190.9" width="6.18" height="24.40" fill="#FFE596" stroke="#000" stroke-width="1.2"/>
<path d="M1102.2,215.3 L1151,215.3" fill="none" stroke="#000" stroke-width="1.4" stroke-linecap="butt" stroke-linejoin="miter"/>
<path d="M1063,195.3 C1063,188 1060,186 1040,185.5 L1005,184.8 C990,184.5 985,180 982,174" fill="none" stroke="#000" stroke-width="1.6"/>
<path d="M979.20,169.00 L989.08,175.80 L983.18,176.96 L978.71,180.99 Z" fill="#000"/>
<path d="M1063,195.3 C1063,188 1066,186 1086,185.5 L1120,184.8 C1140,184.5 1152,180 1158,175" fill="none" stroke="#000" stroke-width="1.6"/>
<path d="M1163.80,169.30 L1161.16,181.00 L1157.89,175.95 L1152.49,173.29 Z" fill="#000"/>
<path d="M890.5,280.4 L890.5,176.9" fill="none" stroke="#000" stroke-width="1.9" stroke-linecap="butt" stroke-linejoin="miter"/>
<path d="M890.50,168.50 L896.30,179.00 L890.50,177.40 L884.70,179.00 Z" fill="#000"/>
<path d="M890.5,242.2 L1063,242.2 L1063,228" fill="none" stroke="#000" stroke-width="1.9" stroke-linecap="butt" stroke-linejoin="miter"/>
<path d="M1063,230 L1063.0,224.2" fill="none" stroke="#000" stroke-width="1.9" stroke-linecap="butt" stroke-linejoin="miter"/>
<path d="M1063.00,215.80 L1068.80,226.30 L1063.00,224.70 L1057.20,226.30 Z" fill="#000"/>
<rect x="886.6" y="292.4" width="34.5" height="19.3" rx="3.2" fill="#F2F2F2" stroke="#606060" stroke-width="1.45"/>
<rect x="882.1" y="288.4" width="34.5" height="19.3" rx="3.2" fill="#F2F2F2" stroke="#606060" stroke-width="1.45"/>
<rect x="877.1" y="284.4" width="34.5" height="19.3" rx="3.2" fill="#F2F2F2" stroke="#606060" stroke-width="1.45"/>
<rect x="872.1" y="280.4" width="34.5" height="19.3" rx="3.2" fill="#F2F2F2" stroke="#606060" stroke-width="1.45"/>
<text x="890.85" y="295.04999999999995" font-size="15" font-style="italic" text-anchor="middle" fill="#000">X</text>
<path d="M1107.4,197.3 C1095,184 1030,183 990,179 C950,175 935,155 935,130 C935,108 946,92 965,84.5" fill="none" stroke="#D9A21B" stroke-width="1.9" stroke-dasharray="5,4"/>
<path d="M973.80,80.60 L967.11,88.88 L965.14,84.50 L963.17,80.12 Z" fill="#D9A21B"/>
<path d="M1140,190.9 C1180,184 1205,178 1214,170 C1224,158 1222,120 1218,110 C1212,95 1195,86 1181,82" fill="none" stroke="#D9A21B" stroke-width="1.9" stroke-dasharray="5,4"/>
<path d="M1172.00,79.60 L1182.55,78.21 L1180.97,82.74 L1179.38,87.27 Z" fill="#D9A21B"/>
<path d="M634.3,352.9 L399.1,352.9 Q387.1,352.9 387.1,364.9 L387.1,634.5 Q387.1,646.5 399.1,646.5 L1243.2,646.5 Q1255.2,646.5 1255.2,634.5 L1255.2,364.9 Q1255.2,352.9 1243.2,352.9 L1057.5,352.9" fill="none" stroke="#000" stroke-width="2.6"/>
<text x="843.6" y="365.9" font-size="25.2" text-anchor="middle" fill="#000" textLength="403.4" lengthAdjust="spacingAndGlyphs">(II) Theoretical Optimization Alignment</text>
<rect x="419.6" y="381.6" width="473.2" height="170.8" fill="#F5F5F5" stroke="#6A6A6A" stroke-width="1.4" rx="8"/>
<rect x="513" y="430.2" width="75.8" height="63.8" fill="#FFF2CC" stroke="#000" stroke-width="1.7"/>
<text x="535" y="470.2" font-size="24" font-style="italic" text-anchor="start" fill="#000" textLength="22.9" lengthAdjust="spacingAndGlyphs" stroke="#FFF2CC" stroke-width="0.25">W</text>
<text x="561.7" y="460.3" font-size="14.5" font-style="italic" text-anchor="start" fill="#000">i</text>
<path d="M550.7,430.2 L550.7,398.9" fill="none" stroke="#999" stroke-width="1.5" stroke-linecap="butt" stroke-linejoin="miter"/>
<path d="M550.70,391.50 L555.50,401.00 L550.70,399.40 L545.90,401.00 Z" fill="#999"/>
<path d="M538.8,391.5 L538.8,420.5 L500.7,420.5 L500.7,475" fill="none" stroke="#000" stroke-width="1.8" stroke-linecap="butt" stroke-linejoin="miter" stroke-dasharray="5,3.4"/>
<path d="M500.70,484.50 L495.60,474.50 L500.70,475.70 L505.80,474.50 Z" fill="#000"/>
<text x="425.2" y="468.6" font-size="15" font-style="italic" text-anchor="start" fill="#000" textLength="8" lengthAdjust="spacingAndGlyphs">g</text>
<text x="433.9" y="461.5" font-size="9.5" font-style="italic" text-anchor="start" fill="#000">i</text>
<text x="442.2" y="468.6" font-size="15" text-anchor="start" fill="#000" textLength="9.6" lengthAdjust="spacingAndGlyphs">=</text>
<text x="465.7" y="459.7" font-size="15" font-style="italic" text-anchor="start" fill="#000" textLength="17.2" lengthAdjust="spacingAndGlyphs">∂L</text>
<path d="M458.8,466.4 L490.5,466.4" stroke="#000" stroke-width="0.9"/>
<text x="460.7" y="480" font-size="15" font-style="italic" text-anchor="start" fill="#000" textLength="23" lengthAdjust="spacingAndGlyphs">∂W</text>
<text x="485.3" y="474" font-size="9.5" font-style="italic" text-anchor="start" fill="#000">i</text>
<path d="M588.7,510 C586.42,509.42 579.45,507.92 575,506.5 C570.55,505.08 564.74,502.62 562,501.5 C559.26,500.38 559.14,500.04 558.57,499.75" fill="none" stroke="#999" stroke-width="1.5"/>
<path d="M551.80,496.30 L562.44,496.34 L558.84,499.89 L558.08,504.89 Z" fill="#999"/>
<text x="496.6" y="539.7" font-size="15.3" text-anchor="start" fill="#000" textLength="108.9" lengthAdjust="spacingAndGlyphs">equivalent weight</text>
<rect x="615.3" y="420.1" width="181.0" height="88.2" fill="none" stroke="#000" stroke-width="1.7" stroke-dasharray="1.7,2.25"/>
<rect x="621.6" y="429.8" width="76.2" height="63.5" fill="#DAE8FC" stroke="#000" stroke-width="1.7"/>
<text x="626.5" y="467.8" font-size="16.2" font-style="italic" text-anchor="start" fill="#000" textLength="14.7" lengthAdjust="spacingAndGlyphs">W</text>
<text x="640" y="469.8" font-size="9.5" text-anchor="start" fill="#000">0</text>
<path d="M650,463.6 L659.1,463.6" stroke="#000" stroke-width="0.9"/>
<text x="664.6" y="467.8" font-size="16.2" font-style="italic" text-anchor="start" fill="#000" textLength="14.3" lengthAdjust="spacingAndGlyphs">W</text>
<text x="677.7" y="469.5" font-size="11.5" font-style="italic" text-anchor="start" fill="#000" textLength="14.3" lengthAdjust="spacingAndGlyphs">res</text>
<path d="M691.20,436.69 L691.20,429.20 M691.20,432.27 L693.77,429.96 M691.20,432.27 L688.63,429.96 M689.37,437.74 L682.89,434.00 M685.55,435.54 L684.83,432.16 M685.55,435.54 L682.26,436.60 M689.37,439.86 L682.89,443.60 M685.55,442.06 L682.26,441.00 M685.55,442.06 L684.83,445.44 M691.20,440.91 L691.20,448.40 M691.20,445.33 L688.63,447.64 M691.20,445.33 L693.77,447.64 M693.03,439.86 L699.51,443.60 M696.85,442.06 L697.57,445.44 M696.85,442.06 L700.14,441.00 M693.03,437.74 L699.51,434.00 M696.85,435.54 L700.14,436.60 M696.85,435.54 L697.57,432.16 M691.20,436.69 L689.37,437.74 L689.37,439.86 L691.20,440.91 L693.03,439.86 L693.03,437.74 Z" stroke="#93C7EE" stroke-width="1.5" stroke-linecap="round" stroke-linejoin="round" fill="none"/>
<path d="M659,429.8 L659.0,399.7" fill="none" stroke="#999" stroke-width="1.5" stroke-linecap="butt" stroke-linejoin="miter"/>
<path d="M659.00,392.30 L663.80,401.80 L659.00,400.20 L654.20,401.80 Z" fill="#999"/>
<path d="M659,516 L659.0,503.2" fill="none" stroke="#999" stroke-width="1.5" stroke-linecap="butt" stroke-linejoin="miter"/>
<path d="M659.00,495.80 L663.80,505.30 L659.00,503.70 L654.20,505.30 Z" fill="#999"/>
<polygon points="711.3000000000001,429.8 785.9,429.8 753.1,458.2 744.1,458.2" fill="#FFE6CC" stroke="#000" stroke-width="1.9" stroke-linejoin="miter"/>
<polygon points="744.1,465.5 753.1,465.5 785.9,493.3 711.3000000000001,493.3" fill="#FFE6CC" stroke="#000" stroke-width="1.9" stroke-linejoin="miter"/>
<text x="743" y="452" font-size="12.5" font-style="italic" text-anchor="start" fill="#000">B</text>
<text x="752.5" y="446" font-size="8.5" font-style="italic" text-anchor="start" fill="#000">i</text>
<text x="742" y="486.2" font-size="12.5" font-style="italic" text-anchor="start" fill="#000">A</text>
<text x="751.3" y="480.5" font-size="8.5" font-style="italic" text-anchor="start" fill="#000">i</text>
<path d="M750.3,429 C745,417 735,410 721,410.6" fill="none" stroke="#999" stroke-width="1.5"/>
<path d="M712.70,411.70 L721.56,405.80 L720.54,410.76 L722.70,415.33 Z" fill="#999"/>
<path d="M707.2,512.3 C709.33,511.55 715.37,509.60 720,507.8 C724.63,506.00 731.60,502.90 735,501.5 C738.40,500.10 739.52,499.73 740.42,499.37" fill="none" stroke="#999" stroke-width="1.5"/>
<path d="M747.50,496.60 L740.41,504.54 L740.14,499.48 L736.90,495.60 Z" fill="#999"/>
<path d="M768.4,385.3 L768.4,413.1 L804.9,413.1 L804.9,469" fill="none" stroke="#000" stroke-width="1.8" stroke-linecap="butt" stroke-linejoin="miter" stroke-dasharray="5,3.4"/>
<path d="M804.90,478.10 L799.90,466.60 L804.90,467.80 L809.90,466.60 Z" fill="#000"/>
<text x="844.1" y="409" font-size="16" text-anchor="middle" fill="#000" textLength="66.8" lengthAdjust="spacingAndGlyphs">equivalent</text>
<text x="846.3" y="427" font-size="16" text-anchor="middle" fill="#000" textLength="52.8" lengthAdjust="spacingAndGlyphs">gradient</text>
<text x="819.2" y="470.2" font-size="15" font-style="italic" text-anchor="start" fill="#000" textLength="7.5" lengthAdjust="spacingAndGlyphs">g</text>
<path d="M820.3,461.8 Q821.5,459.9 822.6,460.9 Q823.6,461.8 824.6,460.1" fill="none" stroke="#000" stroke-width="0.8"/>
<text x="828.2" y="463.8" font-size="9.5" font-style="italic" text-anchor="start" fill="#000">i</text>
<text x="837.1" y="470.2" font-size="15" text-anchor="start" fill="#000" textLength="10.3" lengthAdjust="spacingAndGlyphs">=</text>
<text x="862.9" y="459.5" font-size="15" font-style="italic" text-anchor="start" fill="#000" textLength="18.3" lengthAdjust="spacingAndGlyphs">∂L</text>
<path d="M855,466.4 L889.1,466.4" stroke="#000" stroke-width="0.9"/>
<text x="857" y="485.3" font-size="15" font-style="italic" text-anchor="start" fill="#000" textLength="22.2" lengthAdjust="spacingAndGlyphs">∂W</text>
<path d="M868.8,473.5 Q870.3,471.6 871.8,472.6 Q873.3,473.6 874.8,471.7" fill="none" stroke="#000" stroke-width="0.8"/>
<text x="883.8" y="479.5" font-size="9.5" font-style="italic" text-anchor="start" fill="#000">i</text>
<text x="617.1" y="541.2" font-size="15.5" font-style="italic" text-anchor="start" fill="#000" textLength="17.5" lengthAdjust="spacingAndGlyphs">W</text>
<path d="M623.5,529.6 Q625.5,527.6 627.5,528.9 Q629.5,530.2 631.5,528.2" fill="none" stroke="#000" stroke-width="0.85"/>
<text x="636.2" y="535.1" font-size="10.5" font-style="italic" text-anchor="start" fill="#000">i</text>
<path d="M645.7,536.2 L656.9,536.2 M645.7,540.1 L656.9,540.1" stroke="#000" stroke-width="0.85"/>
<text x="664" y="541.2" font-size="15.5" font-style="italic" text-anchor="start" fill="#000" textLength="17.5" lengthAdjust="spacingAndGlyphs">W</text>
<text x="680" y="543.8" font-size="10.5" text-anchor="start" fill="#000">0</text>
<path d="M691.8,537.7 L701.3,537.7" stroke="#000" stroke-width="0.85"/>
<text x="707.7" y="541.2" font-size="15.5" font-style="italic" text-anchor="start" fill="#000" textLength="17.5" lengthAdjust="spacingAndGlyphs">W</text>
<text x="723.6" y="543.5" font-size="11.5" font-style="italic" text-anchor="start" fill="#000" textLength="15.9" lengthAdjust="spacingAndGlyphs">res</text>
<path d="M745.8,537.7 L756.1,537.7 M750.95,532.6 L750.95,542.8" stroke="#000" stroke-width="0.85"/>
<text x="762.5" y="541.2" font-size="16.5" font-style="italic" text-anchor="start" fill="#000" textLength="6.4" lengthAdjust="spacingAndGlyphs">s</text>
<text x="770.3" y="541.2" font-size="16.5" font-style="italic" text-anchor="start" fill="#000" textLength="12.8" lengthAdjust="spacingAndGlyphs">B</text>
<text x="784.7" y="535.1" font-size="10.5" font-style="italic" text-anchor="start" fill="#000">i</text>
<text x="788.7" y="541.2" font-size="16.5" font-style="italic" text-anchor="start" fill="#000" textLength="11.9" lengthAdjust="spacingAndGlyphs">A</text>
<text x="801.4" y="535.1" font-size="10.5" font-style="italic" text-anchor="start" fill="#000">i</text>
<ellipse cx="1050.6" cy="500" rx="116.2" ry="43.5" fill="none" stroke="#000" stroke-width="1.1"/>
<path d="M1101,386 L1102.3,503" fill="none" stroke="#222" stroke-width="1.0" stroke-linecap="butt" stroke-linejoin="miter" stroke-dasharray="3,2.5"/>
<path d="M1063.9,479.1 L1102.5,503.6" fill="none" stroke="#333" stroke-width="1.0" stroke-linecap="butt" stroke-linejoin="miter" stroke-dasharray="3,2.5"/>
<path d="M1043,523.5 L1102.5,503.6" fill="none" stroke="#333" stroke-width="1.0" stroke-linecap="butt" stroke-linejoin="miter" stroke-dasharray="3,2.5"/>
<path d="M968.2,498.4 L1057.53,480.38" fill="none" stroke="#BBB" stroke-width="1.1" stroke-linecap="butt" stroke-linejoin="miter"/>
<path d="M1063.90,479.10 L1056.81,484.41 L1057.04,480.48 L1055.31,476.96 Z" fill="#BBB"/>
<path d="M968.2,498.4 L1036.84,521.43" fill="none" stroke="#BBB" stroke-width="1.1" stroke-linecap="butt" stroke-linejoin="miter"/>
<path d="M1043.00,523.50 L1034.21,524.56 L1036.36,521.27 L1036.62,517.35 Z" fill="#BBB"/>
<path d="M968.2,498.4 L1007.15,490.15" fill="none" stroke="#D9A21B" stroke-width="1.6" stroke-linecap="butt" stroke-linejoin="miter"/>
<path d="M1014.00,488.70 L1006.51,494.37 L1006.66,490.25 L1004.86,486.55 Z" fill="#D9A21B"/>
<path d="M968.2,498.4 L996.07,507.77" fill="none" stroke="#D9A21B" stroke-width="1.6" stroke-linecap="butt" stroke-linejoin="miter"/>
<path d="M1002.70,510.00 L993.37,511.08 L995.59,507.61 L995.92,503.50 Z" fill="#D9A21B"/>
<path d="M968.2,498.4 L1093.01,503.23" fill="none" stroke="#000" stroke-width="2.0" stroke-linecap="butt" stroke-linejoin="miter"/>
<path d="M1102.50,503.60 L1091.31,508.17 L1092.51,503.21 L1091.70,498.18 Z" fill="#000"/>
<path d="M968.2,498.4 L1092.53,392.24" fill="none" stroke="#000" stroke-width="2.8" stroke-linecap="butt" stroke-linejoin="miter"/>
<path d="M1100.90,385.10 L1095.04,398.26 L1092.15,392.57 L1086.99,388.83 Z" fill="#000"/>
<circle cx="968.5" cy="498.3" r="2.7" fill="#000"/>
<text x="999.5" y="481.4" font-size="15" font-style="italic" text-anchor="start" fill="#000" textLength="7.9" lengthAdjust="spacingAndGlyphs">g</text>
<text x="1008.1" y="484" font-size="12" font-style="italic" text-anchor="start" fill="#000" textLength="8.4" lengthAdjust="spacingAndGlyphs">B</text>
<text x="1040.4" y="468.2" font-size="15" font-style="italic" text-anchor="start" fill="#000" textLength="5.4" lengthAdjust="spacingAndGlyphs">s</text>
<text x="1045.6" y="468.2" font-size="15" font-style="italic" text-anchor="start" fill="#000" textLength="6.8" lengthAdjust="spacingAndGlyphs">g</text>
<text x="1053.5" y="471.9" font-size="12.5" font-style="italic" text-anchor="start" fill="#000" textLength="9.5" lengthAdjust="spacingAndGlyphs">B</text>
<text x="982.4" y="520.9" font-size="15" font-style="italic" text-anchor="start" fill="#000" textLength="7.9" lengthAdjust="spacingAndGlyphs">g</text>
<text x="991" y="524.2" font-size="12" font-style="italic" text-anchor="start" fill="#000" textLength="7.9" lengthAdjust="spacingAndGlyphs">A</text>
<text x="1023.2" y="534" font-size="15" font-style="italic" text-anchor="start" fill="#000" textLength="5.4" lengthAdjust="spacingAndGlyphs">s</text>
<text x="1029.2" y="534" font-size="15" font-style="italic" text-anchor="start" fill="#000" textLength="7.2" lengthAdjust="spacingAndGlyphs">g</text>
<text x="1037.7" y="539.3" font-size="12.5" font-style="italic" text-anchor="start" fill="#000" textLength="9.3" lengthAdjust="spacingAndGlyphs">A</text>
<text x="1112.8" y="516" font-size="21" font-style="italic" text-anchor="start" fill="#000" textLength="10" lengthAdjust="spacingAndGlyphs">g</text>
<path d="M1114.9,503.5 Q1116.6,501 1118.4,502.4 Q1120.1,503.8 1121.9,501.5" fill="none" stroke="#000" stroke-width="0.95"/>
<text x="1124" y="506.4" font-size="14" font-style="italic" text-anchor="start" fill="#000">i</text>
<text x="1109.1" y="400.6" font-size="20.5" font-style="italic" text-anchor="start" fill="#000" textLength="8.8" lengthAdjust="spacingAndGlyphs">g</text>
<text x="1119" y="392.6" font-size="13.5" font-style="italic" text-anchor="start" fill="#000">i</text>
<path d="M1130.6,393.3 L1143.3,393.3 M1130.6,397.6 L1143.3,397.6" stroke="#000" stroke-width="0.9"/>
<text x="1162" y="387.1" font-size="20" font-style="italic" text-anchor="start" fill="#000" textLength="22.2" lengthAdjust="spacingAndGlyphs">∂L</text>
<path d="M1152,395.4 L1194.1,395.4" stroke="#000" stroke-width="1"/>
<text x="1154.8" y="413.7" font-size="20" font-style="italic" text-anchor="start" fill="#000" textLength="27.8" lengthAdjust="spacingAndGlyphs">∂W</text>
<text x="1187.4" y="406.2" font-size="13.5" font-style="italic" text-anchor="start" fill="#000">i</text>
<text x="429.7" y="602" font-size="18" text-anchor="start" fill="#000" textLength="162.5" lengthAdjust="spacingAndGlyphs">(1) Weight Alignment:</text>
<text x="609.6" y="602.1" font-size="21" text-anchor="start" fill="#000" textLength="30.6" lengthAdjust="spacingAndGlyphs">arg</text>
<text x="645.1" y="602.1" font-size="21" text-anchor="start" fill="#000" textLength="36.2" lengthAdjust="spacingAndGlyphs">min</text>
<text x="648" y="617" font-size="14" font-style="italic" text-anchor="start" fill="#000" textLength="15.8" lengthAdjust="spacingAndGlyphs">W</text>
<text x="662.9" y="619.6" font-size="10" font-style="italic" text-anchor="start" fill="#000" textLength="14.9" lengthAdjust="spacingAndGlyphs">res</text>
<path d="M690,580 L690,612.6 M693.9,580 L693.9,612.6" stroke="#000" stroke-width="1"/>
<text x="698" y="602.6" font-size="23" font-style="italic" text-anchor="start" fill="#000" textLength="22.2" lengthAdjust="spacingAndGlyphs">W</text>
<path d="M704.1,586.8 Q706.8,583.4 709.5,585.2 Q712.2,587 715,583.8" fill="none" stroke="#000" stroke-width="1"/>
<text x="724.8" y="592.5" font-size="14" font-style="italic" text-anchor="start" fill="#000">i</text>
<path d="M737.7,596.6 L751.1,596.6" stroke="#000" stroke-width="1"/>
<text x="757.5" y="602.6" font-size="23" font-style="italic" text-anchor="start" fill="#000" textLength="23" lengthAdjust="spacingAndGlyphs">W</text>
<text x="784.1" y="592.5" font-size="14" font-style="italic" text-anchor="start" fill="#000">i</text>
<path d="M794.6,580 L794.6,612.6 M798.5,580 L798.5,612.6" stroke="#000" stroke-width="1"/>
<text x="804.6" y="585.7" font-size="14.5" text-anchor="start" fill="#000" textLength="6.4" lengthAdjust="spacingAndGlyphs">2</text>
<text x="854.9" y="600.1" font-size="18" text-anchor="start" fill="#000" textLength="176" lengthAdjust="spacingAndGlyphs">(2) Gradient Alignment:</text>
<text x="1039.1" y="600.9" font-size="21" text-anchor="start" fill="#000" textLength="30.1" lengthAdjust="spacingAndGlyphs">arg</text>
<text x="1073.8" y="600.9" font-size="21" text-anchor="start" fill="#000" textLength="36.2" lengthAdjust="spacingAndGlyphs">min</text>
<text x="1089.6" y="614.5" font-size="13" font-style="italic" text-anchor="start" fill="#000" textLength="6" lengthAdjust="spacingAndGlyphs">s</text>
<path d="M1119,583.6 L1119,609.2 M1122.9,583.6 L1122.9,609.2" stroke="#000" stroke-width="1"/>
<text x="1128.1" y="600.9" font-size="19" font-style="italic" text-anchor="start" fill="#000" textLength="10.6" lengthAdjust="spacingAndGlyphs">g</text>
<path d="M1129.8,591.2 Q1132,588.4 1134.2,589.8 Q1136.4,591.2 1138.6,588.6" fill="none" stroke="#000" stroke-width="1"/>
<text x="1139.9" y="592.6" font-size="14" font-style="italic" text-anchor="start" fill="#000">i</text>
<path d="M1152.2,596.4 L1166.6,596.4" stroke="#000" stroke-width="1"/>
<text x="1173.4" y="600.9" font-size="19" font-style="italic" text-anchor="start" fill="#000" textLength="11.3" lengthAdjust="spacingAndGlyphs">g</text>
<text x="1185.4" y="592.6" font-size="14" font-style="italic" text-anchor="start" fill="#000">i</text>
<path d="M1195.2,583.6 L1195.2,609.2 M1199.1000000000001,583.6 L1199.1000000000001,609.2" stroke="#000" stroke-width="1"/>
<text x="1205.8" y="587.4" font-size="14.5" text-anchor="start" fill="#000" textLength="6.1" lengthAdjust="spacingAndGlyphs">2</text>
<circle cx="116" cy="665.4" r="8.6" fill="none" stroke="#000" stroke-width="1.6"/>
<path d="M107.4,665.4 L124.6,665.4 M116,656.8 L116,674" stroke="#000" stroke-width="1.5"/>
<text x="131" y="671.6" font-size="17" text-anchor="start" fill="#000" textLength="28.6" lengthAdjust="spacingAndGlyphs">Add</text>
<circle cx="230.2" cy="665.4" r="8.6" fill="none" stroke="#000" stroke-width="1.6"/>
<path d="M224.1,659.3 L236.3,671.5 M224.1,671.5 L236.3,659.3" stroke="#000" stroke-width="1.5"/>
<text x="251" y="671.6" font-size="17" text-anchor="start" fill="#000" textLength="59.7" lengthAdjust="spacingAndGlyphs">Multiply</text>
<path transform="translate(429.7,655.3) scale(1.02)" d="M7.5,0.3 C11,2.5 13.6,6 13.9,10.6 C14.8,10.2 15.8,10.4 16.6,11 C17.8,12.8 18,15.5 17.5,17.2 C16.5,20.6 13,22.5 8.8,22.5 C4.2,22.5 1,19.6 0.4,15.6 C0.1,12.2 1.4,9.4 3.1,7.3 C3.4,8.9 4.3,10 5.6,10.6 C5,6.6 5.6,3 7.5,0.3 Z" fill="#EF4136"/>
<text x="453.2" y="671.6" font-size="17" text-anchor="start" fill="#000" textLength="54.2" lengthAdjust="spacingAndGlyphs">Tunable</text>
<path d="M559.80,664.70 L559.80,656.90 M559.80,660.10 L562.48,657.69 M559.80,660.10 L557.12,657.69 M557.89,665.80 L551.14,661.90 M553.91,663.50 L553.16,659.98 M553.91,663.50 L550.49,664.61 M557.89,668.00 L551.14,671.90 M553.91,670.30 L550.49,669.19 M553.91,670.30 L553.16,673.82 M559.80,669.10 L559.80,676.90 M559.80,673.70 L557.12,676.11 M559.80,673.70 L562.48,676.11 M561.71,668.00 L568.46,671.90 M565.69,670.30 L566.44,673.82 M565.69,670.30 L569.11,669.19 M561.71,665.80 L568.46,661.90 M565.69,663.50 L569.11,664.61 M565.69,663.50 L566.44,659.98 M559.80,664.70 L557.89,665.80 L557.89,668.00 L559.80,669.10 L561.71,668.00 L561.71,665.80 Z" stroke="#93C7EE" stroke-width="1.5" stroke-linecap="round" stroke-linejoin="round" fill="none"/>
<text x="580" y="671.6" font-size="17" text-anchor="start" fill="#000" textLength="47.2" lengthAdjust="spacingAndGlyphs">Frozen</text>
<path d="M666.1,680.3 L666.1,663.4" fill="none" stroke="#000" stroke-width="1.7" stroke-linecap="butt" stroke-linejoin="miter"/>
<path d="M666.10,654.50 L671.50,665.50 L666.10,663.90 L660.70,665.50 Z" fill="#000"/>
<text x="681.1" y="671.6" font-size="17" text-anchor="start" fill="#000" textLength="92.6" lengthAdjust="spacingAndGlyphs">Forward Pass</text>
<path d="M801.6,654.5 L801.6,672.5" fill="none" stroke="#000" stroke-width="2.0" stroke-linecap="butt" stroke-linejoin="miter" stroke-dasharray="4.5,3.2"/>
<path d="M801.60,682.10 L796.30,671.60 L801.60,672.60 L806.90,671.60 Z" fill="#000"/>
<text x="822.8" y="671.6" font-size="17" text-anchor="start" fill="#000" textLength="59.4" lengthAdjust="spacingAndGlyphs">Gradient</text>
<path d="M914.5,664.5 L914.5,681" fill="none" stroke="#D9A21B" stroke-width="2.2" stroke-linecap="butt" stroke-linejoin="miter" stroke-dasharray="5,4"/>
<path d="M914.50,654.90 L920.00,665.90 L914.50,664.70 L909.00,665.90 Z" fill="#D9A21B"/>
<text x="928.7" y="671.1" font-size="17.3" text-anchor="start" fill="#000" textLength="98.7" lengthAdjust="spacingAndGlyphs">Router weight</text>
<rect x="1053.2" y="655.6" width="20.7" height="20.0" fill="#FFF6E3" stroke="#606060" stroke-width="1.9" stroke-dasharray="5,4"/>
<text x="1082.2" y="670.9" font-size="17.4" text-anchor="start" fill="#000" textLength="84.7" lengthAdjust="spacingAndGlyphs">No Forward</text>
</svg></body></html>
